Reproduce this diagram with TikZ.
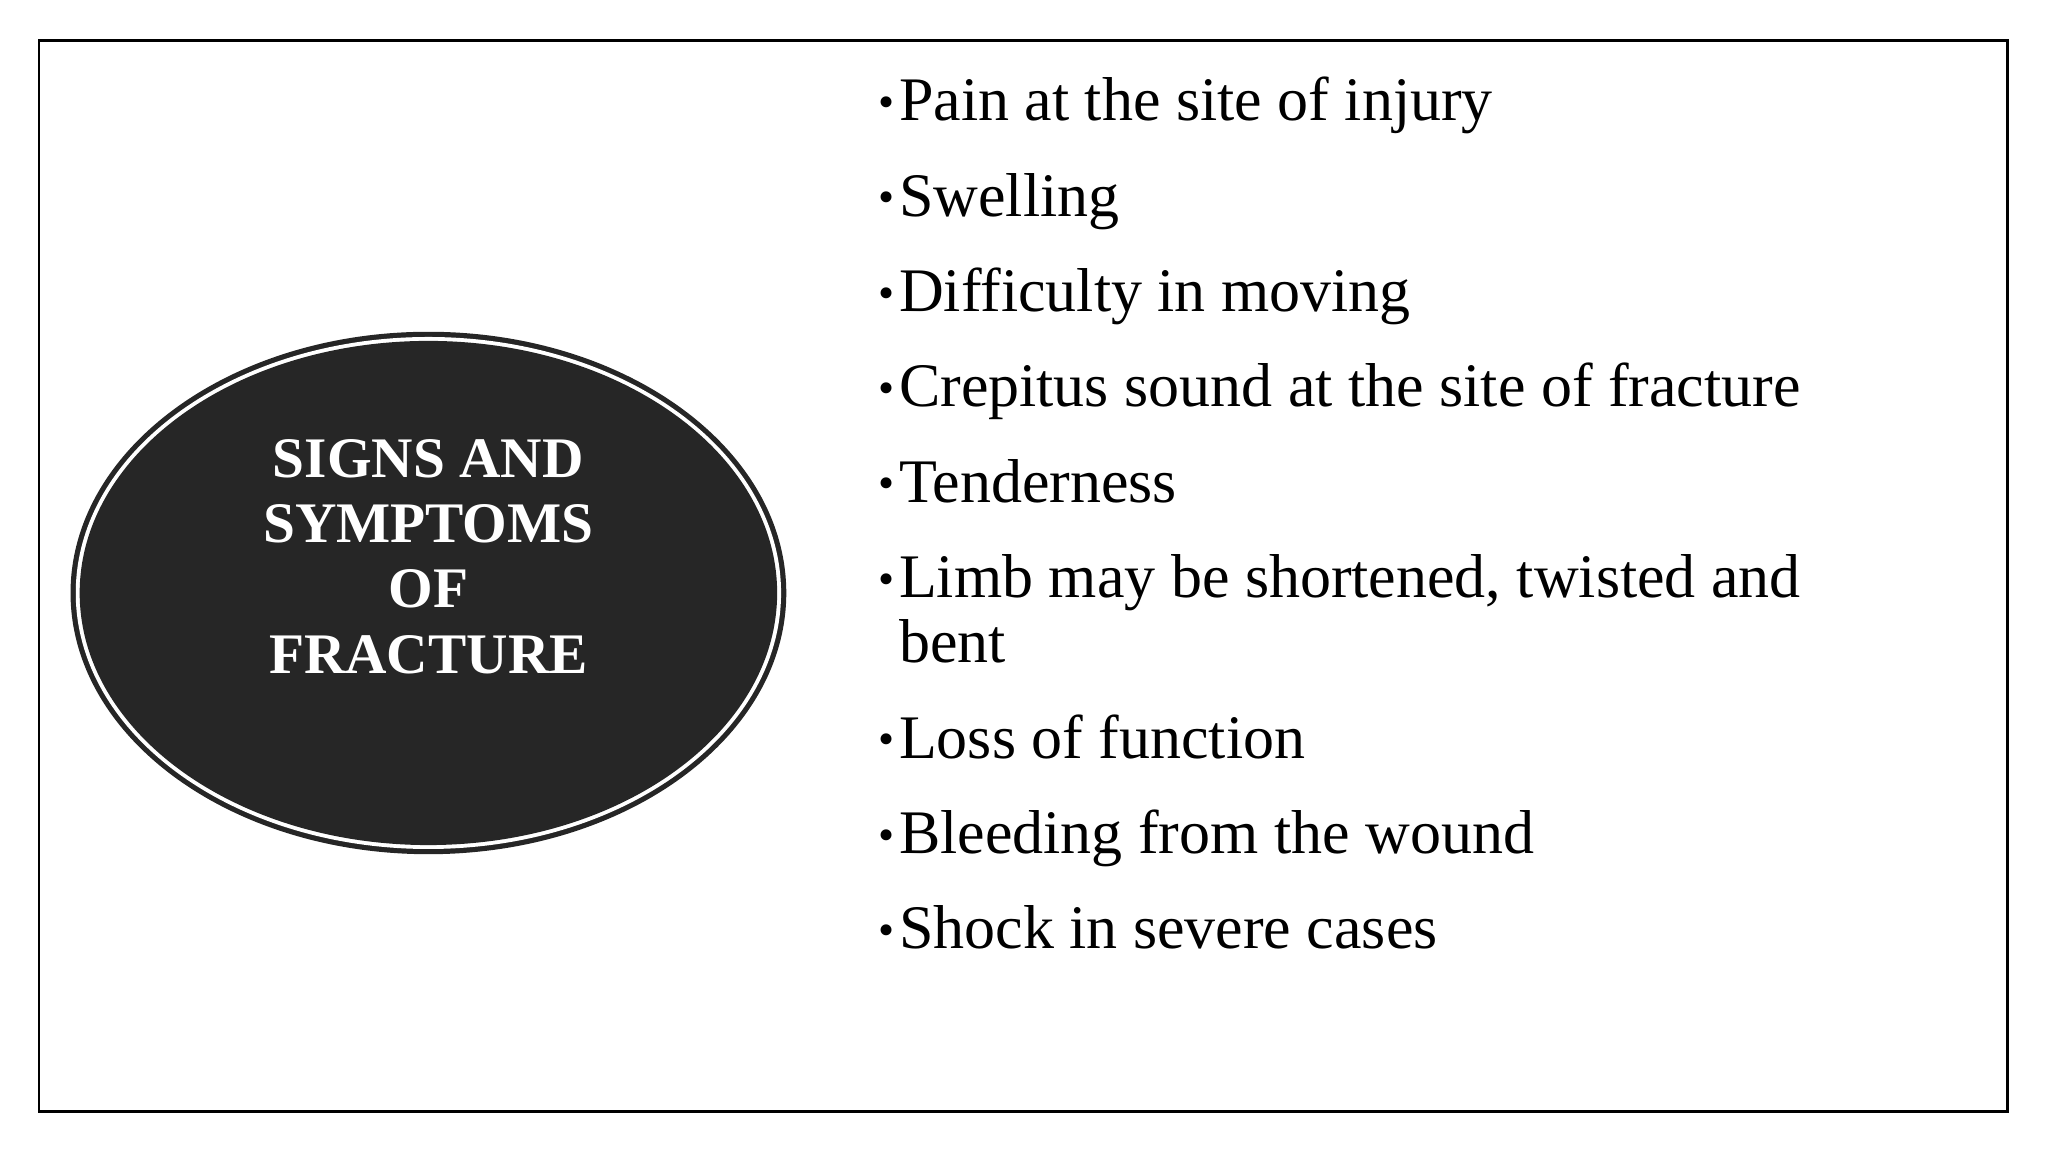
\documentclass[tikz,border=0pt]{standalone}
\usepackage{fontspec}
\setmainfont{Liberation Serif}
\definecolor{dark}{HTML}{262626}
\begin{document}
\begin{tikzpicture}[x=0.02cm,y=-0.02cm,
  item/.style={anchor=west,font=\fontsize{27}{30}\selectfont,inner sep=0pt},
  bul/.style={anchor=east,font=\fontsize{20}{24}\selectfont,inner sep=0pt}]
\useasboundingbox (0,0) rectangle (1568,882);
\draw[line width=1pt] (30,31) rectangle (1537,851);
\fill[dark] (328,454) ellipse [x radius=274, y radius=200];
\fill[white] (328,454) ellipse [x radius=270, y radius=196];
\fill[dark] (328,454) ellipse [x radius=267, y radius=193];
\node[align=center,text=white,font=\bfseries\fontsize{25}{28.5}\selectfont] (title) at (328,426) {SIGNS AND\\SYMPTOMS\\OF\\FRACTURE};
\foreach \y/\t [count=\i] in {82/Pain at the site of injury,155/Swelling,228/Difficulty in moving,301/Crepitus sound at the site of fracture,374/Tenderness,447/{Limb may be shortened, twisted and},570/Loss of function,643/Bleeding from the wound,716/Shock in severe cases}{
  \node[item] (i\i) at (688,\y) {\strut\t};
  \node[bul] (b\i) at (685,\y) {•};
}
\node[item] (i6b) at (688,497) {\strut bent};
\end{tikzpicture}
\end{document}
